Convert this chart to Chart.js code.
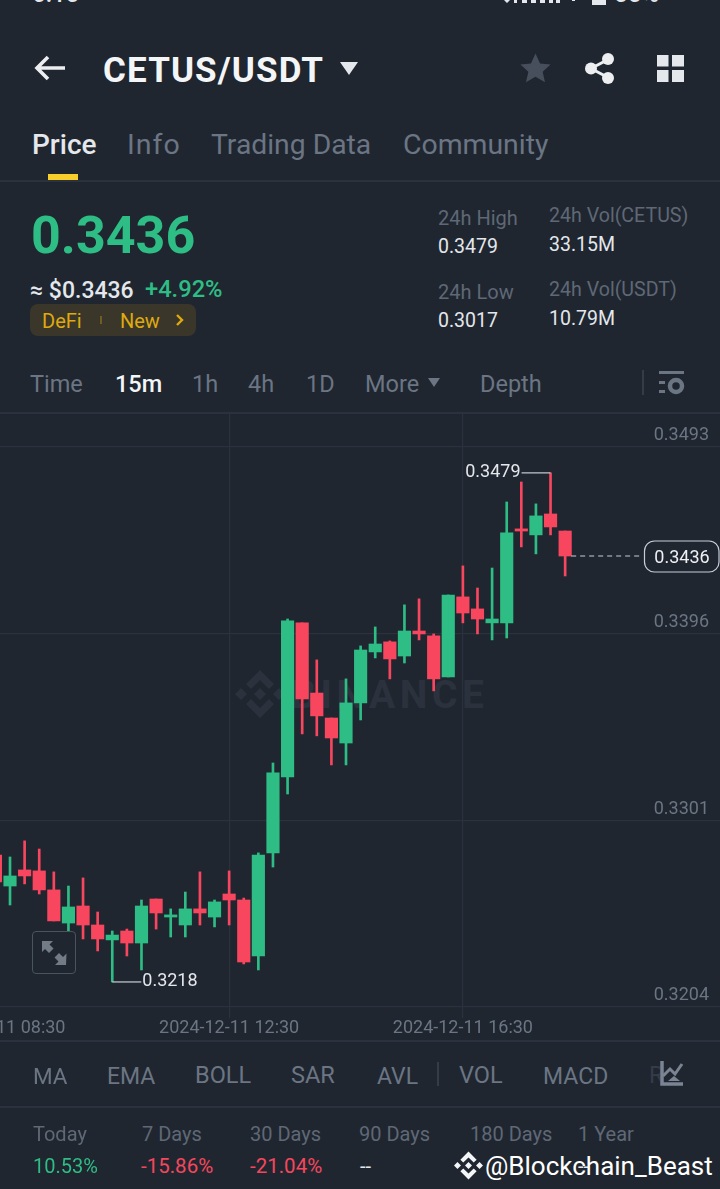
<!DOCTYPE html>
<html>
<head>
<meta charset="utf-8">
<title>CETUS/USDT</title>
<script src="https://cdn.jsdelivr.net/npm/chart.js@4"></script>
<style>
  html, body { margin: 0; padding: 0; background: #1f2630; }
  body { position: relative; width: 720px; height: 1189px; overflow: hidden; font-family: Roboto, sans-serif; }
  .t { position: absolute; transform: translateY(calc(-50% + 1px)); white-space: nowrap; line-height: 1; }
  .g { color: #6b7583; }
  .d { color: #5f6875; }
  .w { color: #e4e7eb; }
  .up { color: #2ebd85; }
  .dn { color: #f6465d; }
  .line { position: absolute; left: 0; width: 720px; height: 1.5px; background: #2b323d; }
  svg { position: absolute; }
  #chartBox { position: absolute; left: 0; top: 413px; width: 720px; height: 627px; }
</style>
</head>
<body>

<!-- status bar, cut off by the screenshot -->
<div class="t w" style="left:32px;top:-7px;font-size:24px;font-weight:500">6:15</div>
<div class="t w" style="left:614px;top:-7px;font-size:24px;font-weight:500">55%</div>
<svg style="left:500px;top:0" width="110" height="6"><path d="M4 0h6l-3 3zM14 0h3v3h-3zM22 0h5v3h-5zM31 0h5v3h-5zM40 0h5v3h-5zM49 0h4v3h-4zM56 0h4v3h-4zM72 0h3v1h-3zM92 0h14v5h-14z" fill="#e4e7eb"/></svg>

<!-- header -->
<svg style="left:34px;top:54px" width="34" height="28" viewBox="0 0 34 28"><path d="M14 3L3 14l11 11M4 14h27" fill="none" stroke="#eceef0" stroke-width="3.6"/></svg>
<div class="t" style="left:103px;top:69px;font-size:35px;font-weight:700;color:#f4f5f6;letter-spacing:1.1px">CETUS/USDT</div>
<svg style="left:339px;top:61px" width="20" height="15"><path d="M1 1h18l-9 13z" fill="#e4e7eb"/></svg>
<svg style="left:519px;top:52px" width="33" height="33" viewBox="0 0 24 24"><path d="M12 1l3.3 7.3 7.7.8-5.8 5.2 1.7 7.7-6.9-4-6.9 4 1.7-7.7L1 9.100l7.700-.8z" fill="#474f5c"/></svg>
<svg style="left:584px;top:52px" width="32" height="33" viewBox="0 0 32 33"><path d="M25 7L7 16.500 25 26" fill="none" stroke="#eceef0" stroke-width="3"/><circle cx="24" cy="7" r="6" fill="#eceef0"/><circle cx="7" cy="16.500" r="6" fill="#eceef0"/><circle cx="24" cy="26" r="6" fill="#eceef0"/></svg>
<svg style="left:657px;top:55px" width="27" height="27"><path d="M0 0h11.500v11.500h-11.500zM15 0h12v11.500h-12zM0 15h11.500v12h-11.500zM15 15h12v12h-12z" fill="#e4e7eb"/></svg>

<!-- tabs -->
<div class="t w" style="left:32px;top:144px;font-size:28px;font-weight:500">Price</div>
<div class="t g" style="left:127px;top:144px;font-size:28.500px;letter-spacing:1px">Info</div>
<div class="t g" style="left:211px;top:144px;font-size:28.300px">Trading Data</div>
<div class="t g" style="left:403px;top:144px;font-size:28.400px">Community</div>
<div style="position:absolute;left:48px;top:174px;width:30px;height:6px;background:#f8cf2a"></div>
<div class="line" style="top:180px"></div>

<!-- price block -->
<div class="t up" style="left:31px;top:235px;font-size:52px;font-weight:700">0.3436</div>
<div class="t w" style="left:30px;top:289px;font-size:23px;font-weight:500">≈ $0.3436</div>
<div class="t up" style="left:145px;top:289px;font-size:23.700px;font-weight:500">+4.92%</div>
<div style="position:absolute;left:30px;top:304px;width:166px;height:32px;border-radius:8px;background:#3a372a"></div>
<div class="t" style="left:42px;top:320px;font-size:20px;color:#dfa90f">DeFi</div>
<div style="position:absolute;left:100px;top:316px;width:1.5px;height:8px;background:#6d5f24"></div>
<div class="t" style="left:120px;top:320px;font-size:20px;color:#dfa90f">New</div>
<svg style="left:175px;top:313px" width="11" height="14"><path d="M2 2l5 5-5 5" fill="none" stroke="#dfa90f" stroke-width="2.4"/></svg>

<div class="t d" style="left:438px;top:217px;font-size:20px">24h High</div>
<div class="t w" style="left:438px;top:246px;font-size:19.500px">0.3479</div>
<div class="t d" style="left:549px;top:215px;font-size:19.600px">24h Vol(CETUS)</div>
<div class="t w" style="left:549px;top:244px;font-size:19.500px">33.15M</div>
<div class="t d" style="left:438px;top:291px;font-size:20px">24h Low</div>
<div class="t w" style="left:438px;top:320px;font-size:19.500px">0.3017</div>
<div class="t d" style="left:549px;top:289px;font-size:19.600px">24h Vol(USDT)</div>
<div class="t w" style="left:549px;top:318px;font-size:19.500px">10.79M</div>

<!-- interval row -->
<div class="t g" style="left:30px;top:384px;font-size:23.500px">Time</div>
<div class="t w" style="left:115px;top:384px;font-size:23.500px;font-weight:500;color:#f4f5f6">15m</div>
<div class="t g" style="left:192px;top:384px;font-size:23.500px">1h</div>
<div class="t g" style="left:248px;top:384px;font-size:23.500px">4h</div>
<div class="t g" style="left:306px;top:384px;font-size:23.500px">1D</div>
<div class="t g" style="left:365px;top:384px;font-size:23.500px">More</div>
<svg style="left:427px;top:377px" width="14" height="11"><path d="M1 1h12l-6 9z" fill="#6b7583"/></svg>
<div class="t g" style="left:480px;top:384px;font-size:23.500px">Depth</div>
<div style="position:absolute;left:642px;top:370px;width:1.500px;height:25px;background:#353c48"></div>
<svg style="left:659px;top:370px" width="26" height="26"><path d="M0 1h25v3h-25zM0 11h6v3h-6zM0 20h6v3h-6z" fill="#6b7583"/><circle cx="17" cy="16" r="6" fill="none" stroke="#6b7583" stroke-width="4.500"/></svg>
<div class="line" style="top:412px;height:2px"></div>

<!-- chart watermark sits under the canvas -->
<svg style="left:235px;top:669px" width="50" height="50" viewBox="0 0 50 50"><path d="M25 1l14 14-5 5-9-9-9 9-5-5zM25 49l14-14-5-5-9 9-9-9-5 5zM6 19l6 6-6 6-6-6zM44 19l6 6-6 6-6-6zM25 19l6 6-6 6-6-6z" fill="#2b323d"/></svg>
<div class="t" style="left:291px;top:694px;font-size:39px;font-weight:700;color:#2b323d;letter-spacing:4.600px">BINANCE</div>

<div id="chartBox"><canvas id="candles" width="720" height="627"></canvas></div>

<!-- expand button over the chart -->
<div style="position:absolute;left:32px;top:931px;width:44px;height:43px;box-sizing:border-box;border:1.500px solid #4b535f;border-radius:4px;background:#1f2630"></div>
<svg style="left:41px;top:940px" width="26" height="26"><path d="M1 1h11l-3.500 3.500 4 4-4.500 4.500-4-4L1 12zM25 25h-11l3.500-3.500-4-4 4.500-4.500 4 4 3.500-3.500z" fill="#737b87"/></svg>

<!-- indicator row -->
<div class="line" style="top:1040px"></div>
<div class="t g" style="left:33px;top:1075px;font-size:22.500px">MA</div>
<div class="t g" style="left:107px;top:1075px;font-size:23px">EMA</div>
<div class="t g" style="left:195px;top:1075px;font-size:23.500px">BOLL</div>
<div class="t g" style="left:291px;top:1075px;font-size:23.500px">SAR</div>
<div class="t g" style="left:377px;top:1075px;font-size:23px">AVL</div>
<div style="position:absolute;left:437px;top:1062px;width:1.500px;height:24px;background:#353c48"></div>
<div class="t g" style="left:459px;top:1075px;font-size:23.500px">VOL</div>
<div class="t g" style="left:543px;top:1075px;font-size:23px">MACD</div>
<div class="t" style="left:649px;top:1075px;font-size:23.500px;color:#353c48">R</div>
<svg style="left:660px;top:1061px;background:#1f2630" width="24" height="25"><path d="M2 0v23h21" fill="none" stroke="#7b8492" stroke-width="3.500"/><path d="M3 15l7-7 5 5 7-10" fill="none" stroke="#7b8492" stroke-width="3"/><path d="M8 20l6-5 6 5z" fill="#7b8492"/></svg>
<div class="line" style="top:1106px"></div>

<!-- performance row -->
<div class="t d" style="left:33px;top:1133px;font-size:20px">Today</div>
<div class="t d" style="left:142px;top:1133px;font-size:20px">7 Days</div>
<div class="t d" style="left:250px;top:1133px;font-size:20px">30 Days</div>
<div class="t d" style="left:359px;top:1133px;font-size:20px">90 Days</div>
<div class="t d" style="left:470px;top:1133px;font-size:20px">180 Days</div>
<div class="t d" style="left:578px;top:1133px;font-size:20px">1 Year</div>
<div class="t up" style="left:33px;top:1165px;font-size:20px">10.53%</div>
<div class="t dn" style="left:141px;top:1165px;font-size:20.500px">-15.86%</div>
<div class="t dn" style="left:250px;top:1165px;font-size:20.500px">-21.04%</div>
<div class="t w" style="left:360px;top:1165px;font-size:20px">--</div>
<div class="t w" style="left:578px;top:1165px;font-size:20px">--</div>

<!-- screenshot watermark -->
<svg style="left:454px;top:1151px" width="29" height="29" viewBox="0 0 50 50"><path d="M25 1l14 14-5 5-9-9-9 9-5-5zM25 49l14-14-5-5-9 9-9-9-5 5zM6 19l6 6-6 6-6-6zM44 19l6 6-6 6-6-6zM25 19l6 6-6 6-6-6z" fill="#f4f5f6"/></svg>
<div class="t" style="left:485px;top:1165px;font-size:26px;color:#fff">@Blockchain_Beast</div>

<script>
const candleIndex = [0,1,2,3,4,5,6,7,8,9,10,11,12,13,14,15,16,17,18,19,20,21,22,23,24,25,26,27,28,29,30,31,32,33,34,35,36,37,38,39];
const opens = [0.32824,0.32664,0.32747,0.32742,0.32644,0.32473,0.32561,0.32463,0.32386,0.32432,
  0.32370,0.32597,0.32504,0.32463,0.32546,0.32504,0.32623,0.32592,0.32303,0.32835,
  0.33227,0.34022,0.33660,0.33531,0.33402,0.33609,0.33872,0.33924,0.33851,0.33980,
  0.33955,0.33743,0.34156,0.34094,0.34022,0.34022,0.34507,0.34476,0.34584,0.34496];
const highs = [0.32824,0.32814,0.32897,0.32855,0.32737,0.32664,0.32706,0.32530,0.32432,0.32442,
  0.32592,0.32597,0.32546,0.32633,0.32737,0.32592,0.32742,0.32602,0.32835,0.33299,
  0.34042,0.34022,0.33831,0.33531,0.33733,0.33903,0.34001,0.33929,0.34115,0.34146,
  0.33965,0.34166,0.34316,0.34202,0.34305,0.34646,0.34749,0.34636,0.34796,0.34496];
const lows = [0.32685,0.32566,0.32675,0.32623,0.32484,0.32432,0.32391,0.32329,0.32169,0.32303,
  0.32231,0.32442,0.32401,0.32401,0.32463,0.32453,0.32463,0.32262,0.32231,0.32762,
  0.33139,0.33449,0.33439,0.33289,0.33289,0.33521,0.33841,0.33733,0.33815,0.33934,
  0.33671,0.33743,0.34022,0.33965,0.33934,0.33944,0.34414,0.34378,0.34476,0.34264];
const closes = [0.32685,0.32716,0.32716,0.32644,0.32484,0.32556,0.32463,0.32391,0.32411,0.32370,
  0.32561,0.32525,0.32515,0.32546,0.32525,0.32582,0.32592,0.32272,0.32824,0.33248,
  0.34032,0.33629,0.33542,0.33428,0.33609,0.33882,0.33913,0.33836,0.33980,0.33965,
  0.33733,0.34166,0.34073,0.34042,0.34042,0.34486,0.34496,0.34574,0.34517,0.34367];

// the app's grid is evenly spaced, its labels are rounded
const priceTicks = [0.3204, 0.33003, 0.33967, 0.3493];
const priceLabels = ['0.3204', '0.3301', '0.3396', '0.3493'];
const timeTicks = [0, 16, 32];
const timeLabels = ['2024-12-11 08:30', '2024-12-11 12:30', '2024-12-11 16:30'];

const highMark = { index: 38, value: 0.34796, label: '0.3479' };
const lowMark = { index: 8, value: 0.32169, label: '0.3218' };
const lastPrice = { index: 39, value: 0.34367, label: '0.3436' };

const UP = '#2ebd85';
const DOWN = '#f9465f';

const candleColors = closes.map((c, i) => c >= opens[i] ? UP : DOWN);

// the axis labels must not push the plot area in
function noPadding(scale) {
  scale.paddingTop = scale.paddingBottom = scale.paddingLeft = scale.paddingRight = 0;
}

// high / low callouts and the last price pill
const markers = {
  id: 'markers',
  afterDatasetsDraw(chart) {
    const { ctx, scales: { x, y } } = chart;
    ctx.save();
    ctx.font = '18px Roboto';
    ctx.textBaseline = 'middle';
    ctx.strokeStyle = '#c9ced6';
    ctx.fillStyle = '#e4e7eb';
    ctx.lineWidth = 1.2;

    const hx = x.getPixelForValue(highMark.index);
    const hy = y.getPixelForValue(highMark.value);
    ctx.beginPath();
    ctx.moveTo(hx, hy);
    ctx.lineTo(hx - 29, hy);
    ctx.stroke();
    ctx.textAlign = 'right';
    ctx.fillText(highMark.label, hx - 30, hy);

    const lx = x.getPixelForValue(lowMark.index);
    const ly = y.getPixelForValue(lowMark.value);
    ctx.beginPath();
    ctx.moveTo(lx, ly);
    ctx.lineTo(lx + 29, ly);
    ctx.stroke();
    ctx.textAlign = 'left';
    ctx.fillText(lowMark.label, lx + 30, ly);

    const py = y.getPixelForValue(lastPrice.value);
    const px = x.getPixelForValue(lastPrice.index) + 6;
    ctx.setLineDash([5, 4]);
    ctx.beginPath();
    ctx.moveTo(px, py);
    ctx.lineTo(640, py);
    ctx.stroke();
    ctx.setLineDash([]);

    ctx.fillStyle = '#1f2630';
    ctx.strokeStyle = '#c9ced6';
    ctx.beginPath();
    ctx.roundRect(644.5, py - 15, 74.5, 31, 10);
    ctx.fill();
    ctx.stroke();
    ctx.fillStyle = '#eef0f2';
    ctx.textAlign = 'center';
    ctx.fillText(lastPrice.label, 682, py + 2);
    ctx.restore();
  }
};

new Chart(document.getElementById('candles').getContext('2d'), {
  type: 'bar',
  plugins: [markers],
  data: {
    datasets: [
      {
        label: 'Body',
        data: candleIndex.map((x, i) => ({ x: x, y: [opens[i], closes[i]] })),
        backgroundColor: candleColors,
        barThickness: 12.5,
        minBarLength: 2,
        grouped: false,
        order: 1
      },
      {
        label: 'Wick',
        data: candleIndex.map((x, i) => ({ x: x, y: [lows[i], highs[i]] })),
        backgroundColor: candleColors,
        barThickness: 2,
        grouped: false,
        order: 2
      }
    ]
  },
  options: {
    responsive: false,
    animation: false,
    layout: { padding: 0 },
    plugins: {
      legend: { display: false },
      tooltip: { enabled: false }
    },
    scales: {
      x: {
        type: 'linear',
        offset: false,
        min: 0.315,
        max: 49.6,
        afterBuildTicks: scale => { scale.ticks = timeTicks.map(v => ({ value: v })); },
        afterFit: scale => { scale.height = 22; noPadding(scale); },
        grid: { color: '#2b323d', lineWidth: 1.2, drawTicks: false, offset: false },
        border: { display: false },
        ticks: {
          autoSkip: false,
          maxRotation: 0,
          padding: 0,
          color: '#6b7583',
          font: { family: 'Roboto', size: 18 },
          callback: v => timeLabels[timeTicks.indexOf(v)]
        }
      },
      y: {
        position: 'right',
        min: 0.31983,
        max: 0.35105,
        afterBuildTicks: scale => { scale.ticks = priceTicks.map(v => ({ value: v })); },
        afterFit: scale => { scale.width = 0; noPadding(scale); },
        grid: { color: '#2b323d', lineWidth: 1.2, drawTicks: false },
        border: { display: false },
        ticks: {
          mirror: true,
          padding: -11,
          labelOffset: -11,
          color: '#6b7583',
          font: { family: 'Roboto', size: 18 },
          callback: v => priceLabels[priceTicks.indexOf(v)]
        }
      }
    }
  }
});
</script>
</body>
</html>
